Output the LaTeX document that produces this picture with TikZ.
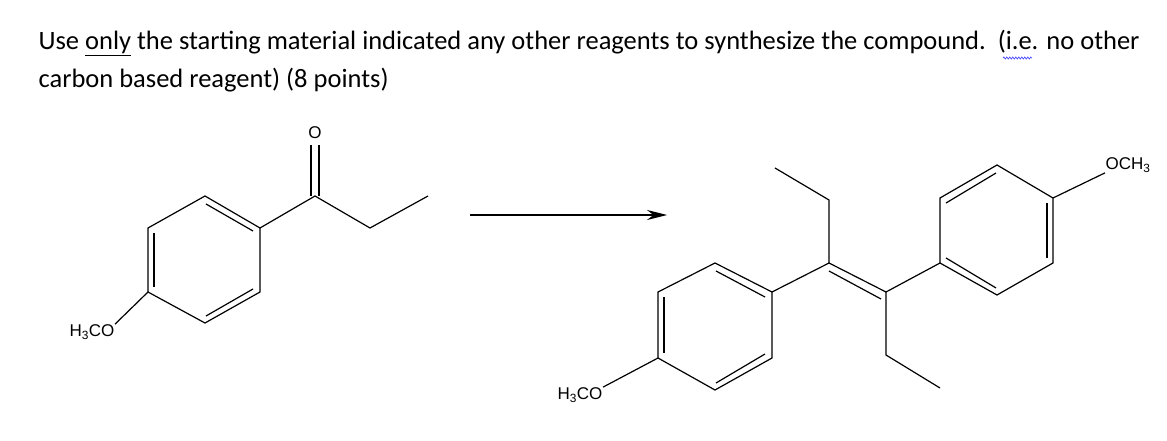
\documentclass[tikz,border=0pt]{standalone}
\usepackage{fontspec}
\setmainfont{Carlito}
\newfontfamily\lab{Liberation Sans}
\usetikzlibrary{arrows.meta,decorations.pathmorphing}
\begin{document}
\begin{tikzpicture}[x=1pt,y=-1pt,line width=1.2pt,
  atom/.style={inner sep=0pt,font=\lab\fontsize{17}{17}\selectfont},
  hdr/.style={anchor=base west,inner sep=0pt,font=\fontsize{26.5}{30}\selectfont}]
\useasboundingbox (0,0) rectangle (1167,441);
\node[hdr] (t1) at (38,50) {Use \underline{only} the starting material indicated any other reagents to synthesize the compound.\ \ (i.e. no other};
\node[hdr] (t2) at (38,88) {carbon based reagent) (8 points)};
\draw[blue!70,line width=0.7pt,decorate,decoration={zigzag,amplitude=1pt,segment length=3pt}] (1003,58) -- (1032,58);
% left molecule
\coordinate (a1) at (205,196); \coordinate (a2) at (260,228); \coordinate (a3) at (260,292);
\coordinate (a4) at (205,323); \coordinate (a5) at (148,292); \coordinate (a6) at (148,228);
\draw (a1)--(a2)--(a3)--(a4)--(a5)--(a6)--cycle;
\draw (154,233)--(154,287); \draw (206,204)--(253,231); \draw (253,289)--(206,316);
\coordinate (c1) at (315,196); \coordinate (c2) at (370,228); \coordinate (c3) at (428,196);
\node[atom] (O) at (315,133) {O};
\draw (a2)--(c1)--(c2)--(c3);
\draw (311,196)--(311,145) (319,196)--(319,145);
\node[atom] (me1) at (92,332) {H\textsubscript{3}CO};
\draw (a5)--(me1.north east);
% arrow
\coordinate (r1) at (470,215); \coordinate (r2) at (667,215);
\draw[-{Stealth[length=20pt,width=10pt]}] (r1)--(r2);
% right molecule
\coordinate (b1) at (715,263); \coordinate (b2) at (772,292); \coordinate (b3) at (772,358);
\coordinate (b4) at (715,390); \coordinate (b5) at (658,358); \coordinate (b6) at (658,292);
\draw (b1)--(b2)--(b3)--(b4)--(b5)--(b6)--cycle;
\draw (664,297)--(664,353); \draw (716,271)--(765,297); \draw (765,354)--(716,383);
\node[atom] (me2) at (580,395) {H\textsubscript{3}CO};
\draw (b5)--(me2.north east);
\coordinate (d1) at (829,263); \coordinate (d2) at (886,292);
\draw (b2)--(d1)--(d2);
\draw (829,271)--(881,299);
\coordinate (e1) at (829,200); \coordinate (e2) at (775,168);
\draw (d1)--(e1)--(e2);
\coordinate (f1) at (886,355); \coordinate (f2) at (940,388);
\draw (d2)--(f1)--(f2);
\coordinate (g1) at (940,263); \coordinate (g2) at (940,198); \coordinate (g3) at (997,165);
\coordinate (g4) at (1053,198); \coordinate (g5) at (1053,263); \coordinate (g6) at (997,295);
\draw (d2)--(g1);
\draw (g1)--(g2)--(g3)--(g4)--(g5)--(g6)--cycle;
\draw (1047,203)--(1047,258); \draw (946,203)--(996,173); \draw (946,258)--(996,288);
\node[atom] (me3) at (1128,165) {OCH\textsubscript{3}};
\draw (g4)--(me3.south west);
\end{tikzpicture}
\end{document}
